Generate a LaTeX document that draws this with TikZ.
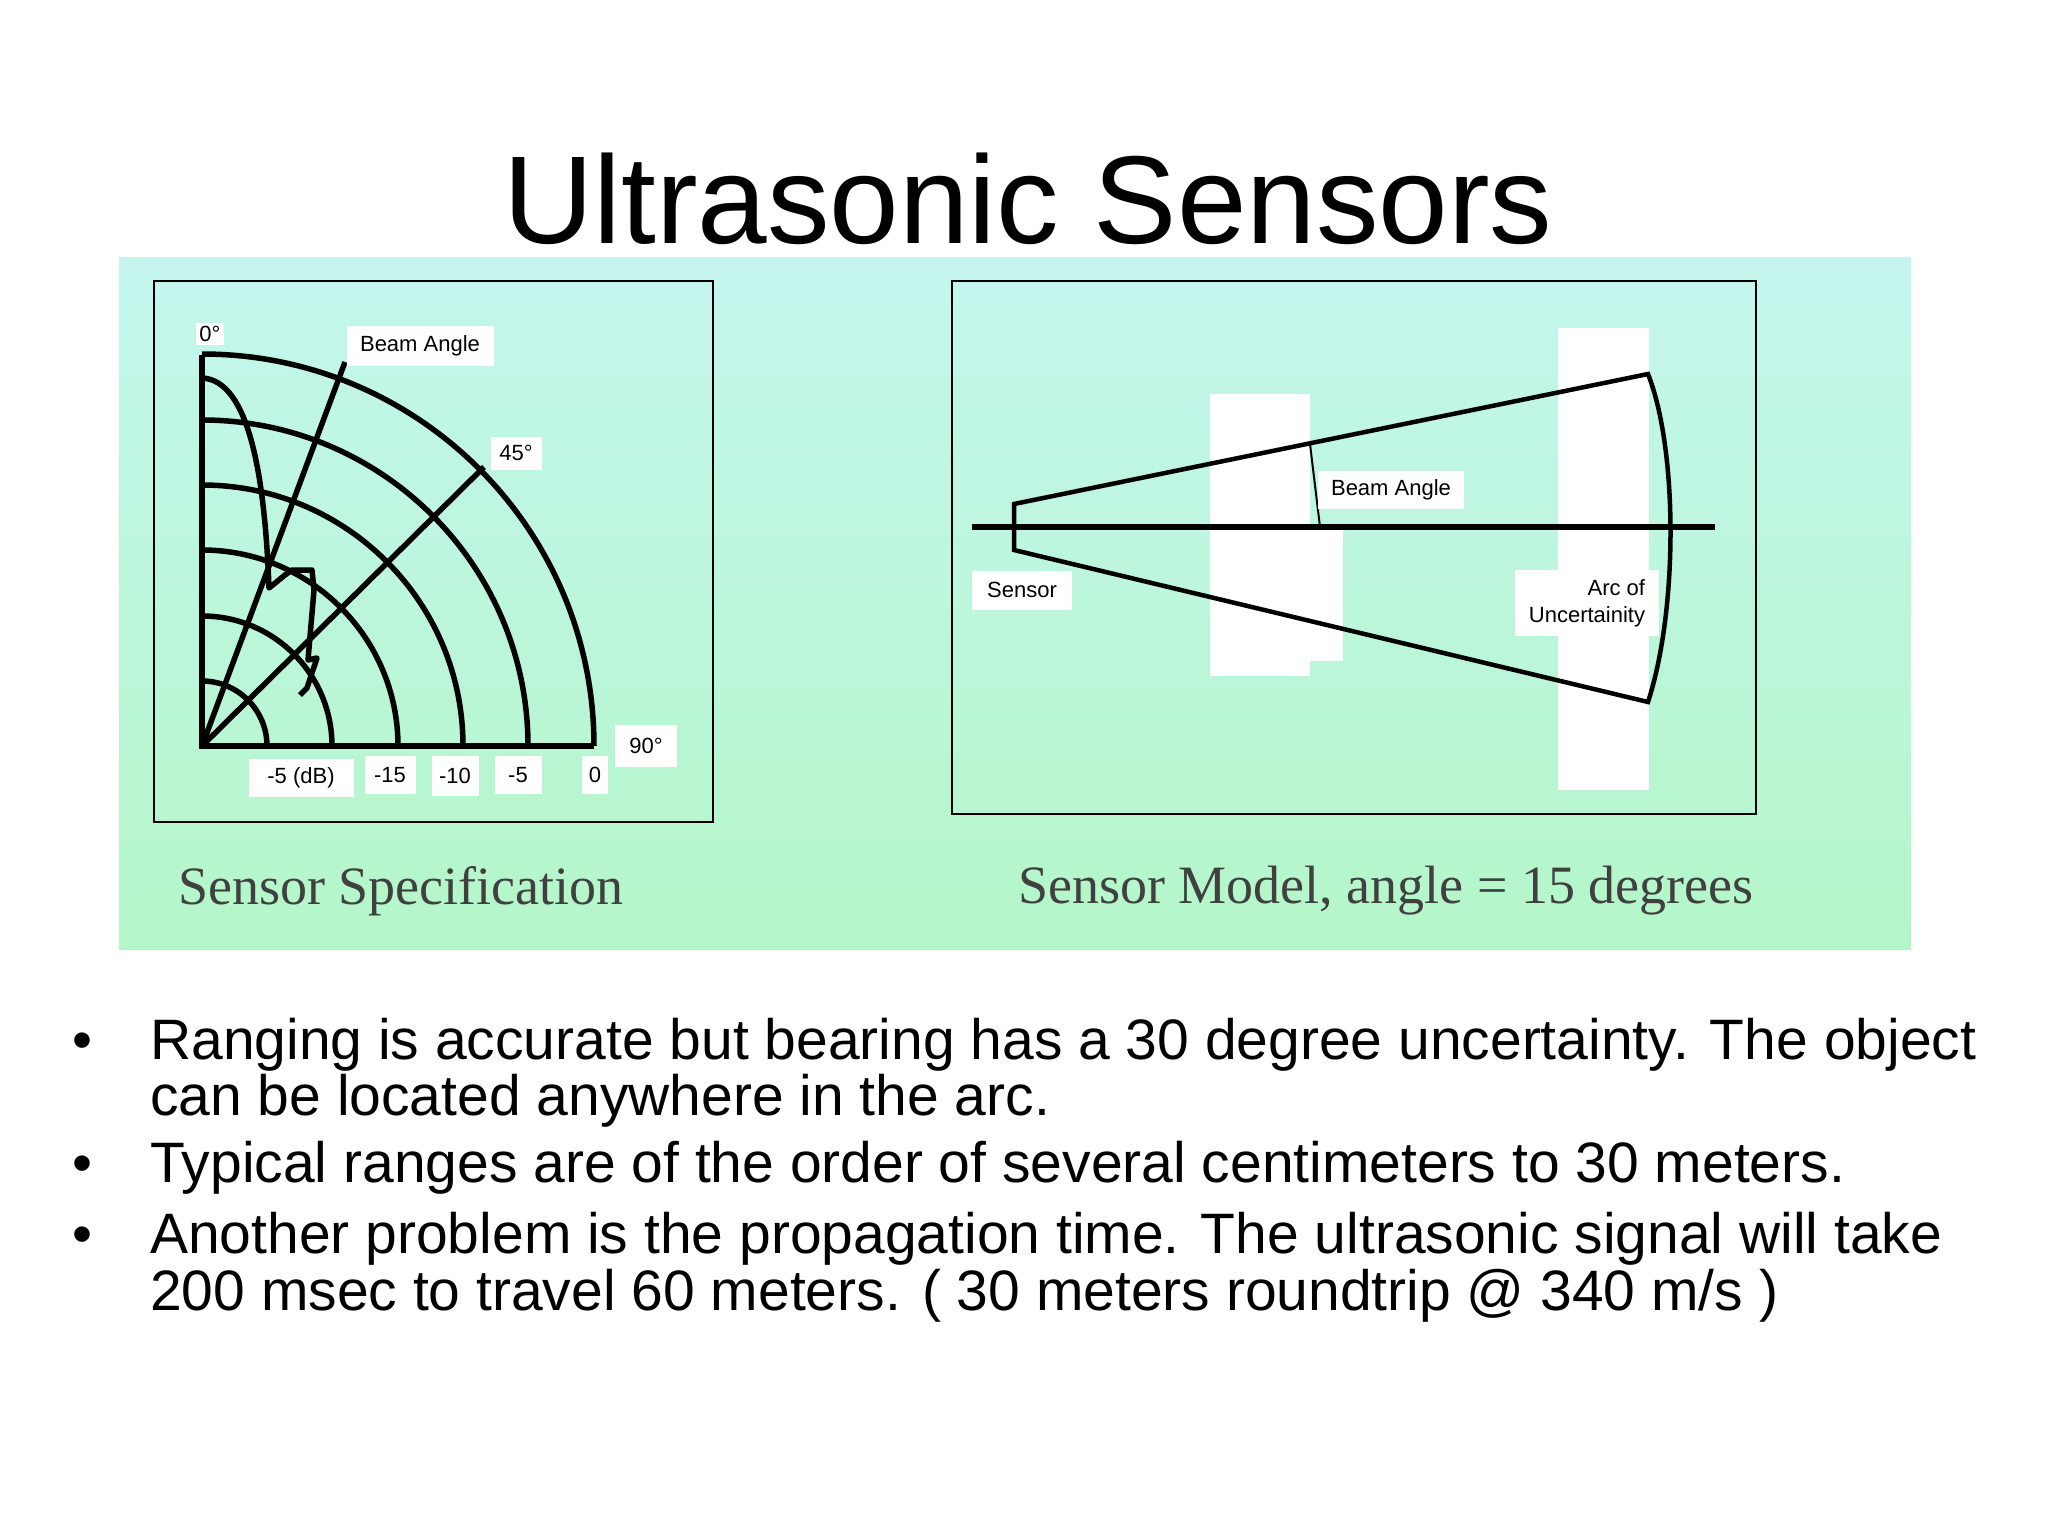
\documentclass[tikz,border=0pt]{standalone}
\usepackage{fontspec}
\usetikzlibrary{calc}
\setmainfont{Liberation Sans}
\newfontfamily\capfont{Liberation Serif}
\begin{document}
\begin{tikzpicture}[x=1pt,y=-1pt,
  lbl/.style={fill=white,inner sep=3pt,font=\fontsize{22}{24}\selectfont},
  thick line/.style={line width=5.5pt},
  bul/.style={anchor=base west,inner sep=0pt,font=\fontsize{57}{60}\selectfont},
  captxt/.style={text=black!75,font=\capfont\fontsize{54}{58}\selectfont}]
\useasboundingbox[fill=white] (0,0) rectangle (2048,1536);
\node[anchor=base,font=\fontsize{125}{130}\selectfont] (title) at (1028,243) {Ultrasonic Sensors};
\shade[top color={rgb,255:red,196;green,246;blue,238},bottom color={rgb,255:red,180;green,246;blue,200}] (119,257) rectangle (1911,949);
% left panel
\draw[line width=2.5pt] (154,281) rectangle (713,822);
\coordinate (O) at (202,746);
\foreach \r in {65,130,196,261,326,392}{\draw[thick line] ($(O)+(0,-\r)$) arc[start angle=90,end angle=0,radius=\r pt];}
\draw[thick line] (202,355) -- (O) -- (594,746);
\draw[thick line] (O) -- (484,467);
\draw[thick line] (O) -- (345,362);
\draw[thick line,line join=round] (202,378) .. controls (250,380) and (265,480) .. (269,588) -- (285,575) -- (292,570) -- (312,570) -- (314,590) -- (308,660) -- (317,658) -- (307,688) -- (300,695);
\node[lbl] (d0) at (210,334) {0°};
\node[lbl,minimum width=147pt,minimum height=40pt] (ba1) at (420,346) {Beam Angle};
\node[lbl,minimum width=51pt,minimum height=33pt] (d45) at (516,453) {45°};
\node[lbl,minimum width=62pt,minimum height=42pt] (d90) at (646,746) {90°};
\node[lbl,minimum width=105pt,minimum height=38pt] (t20) at (301,778) {-5 (dB)};
\node[lbl,minimum width=51pt,minimum height=38pt] (t15) at (390,775) {-15};
\node[lbl,minimum width=47pt,minimum height=40pt] (t10) at (455,776) {-10};
\node[lbl,minimum width=47pt,minimum height=38pt] (t5) at (518,775) {-5};
\node[lbl,minimum width=26pt,minimum height=38pt] (t0) at (595,775) {0};
% right panel
\draw[line width=2.5pt] (952,281) rectangle (1756,814);
\fill[white] (1210,394) rectangle (1310,676);
\fill[white] (1310,527) rectangle (1343,661);
\fill[white] (1558,328) rectangle (1649,790);
\coordinate (S1) at (1014,504); \coordinate (S2) at (1014,550);
\coordinate (E1) at (1648,374); \coordinate (E2) at (1648,702);
\draw[thick line] (972,527) -- (1715,527);
\draw[line width=4.5pt] (S1) -- (E1) .. controls (1678,450) and (1678,610) .. (E2) -- (S2) -- cycle;
\draw[line width=2pt] (1310,444) -- (1320,527);
\node[lbl,minimum width=146pt,minimum height=38pt] (ba2) at (1391,490) {Beam Angle};
\node[lbl,minimum width=100pt,minimum height=39pt] (sen) at (1022,590) {Sensor};
\node[lbl,minimum width=144pt,minimum height=66pt,align=right,font=\fontsize{22}{27}\selectfont] (arc) at (1587,603) {Arc of\\Uncertainity};
\node[captxt] (c1) at (401,891) {Sensor Specification};
\node[captxt] (c2) at (1386,891) {Sensor Model, angle = 15 degrees};
% bullets
\foreach \y in {1059,1182,1253}{\node[bul] at (72,\y) {•};}
\node[bul] (b1) at (150,1059) {Ranging is accurate but bearing has a 30 degree uncertainty. The object};
\node[bul] (b2) at (150,1115) {can be located anywhere in the arc.};
\node[bul] (b3) at (150,1182) {Typical ranges are of the order of several centimeters to 30 meters.};
\node[bul] (b4) at (150,1253) {Another problem is the propagation time. The ultrasonic signal will take};
\node[bul] (b5) at (150,1310) {200 msec to travel 60 meters. ( 30 meters roundtrip @ 340 m/s )};
\end{tikzpicture}
\end{document}
